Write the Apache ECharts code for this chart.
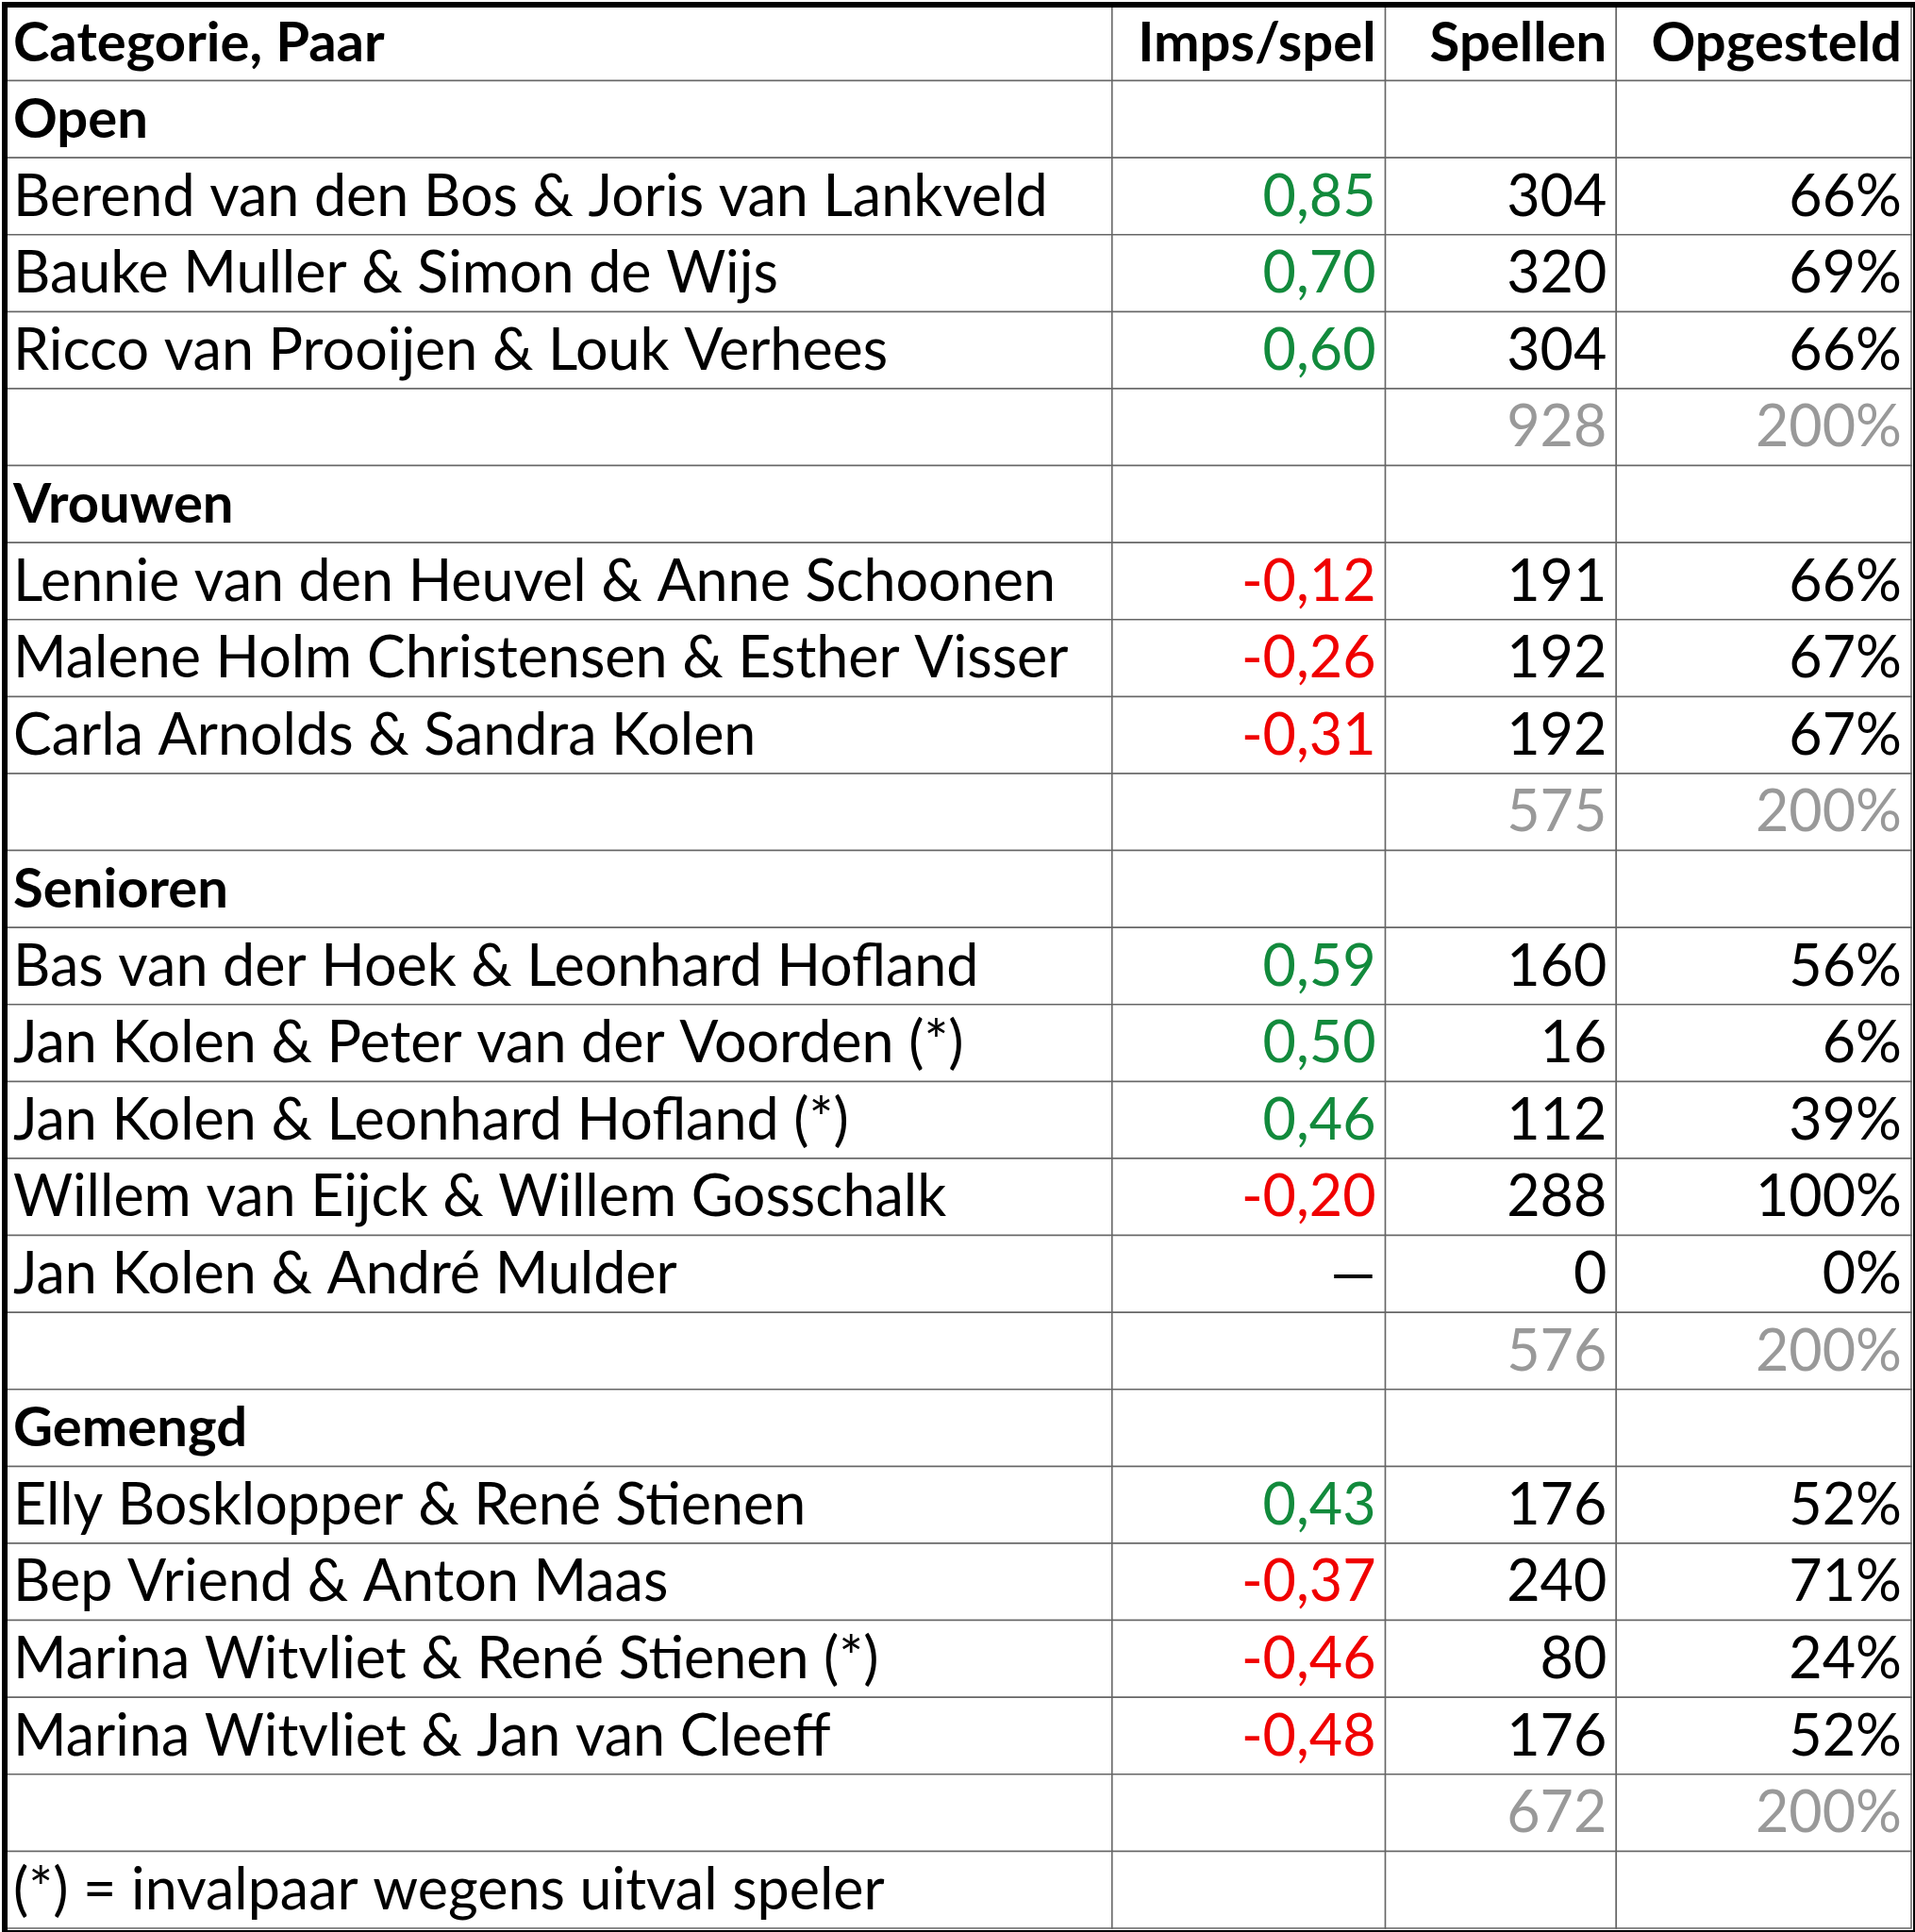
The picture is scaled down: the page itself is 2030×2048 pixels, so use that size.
<!DOCTYPE html>
<html>
<head>
<meta charset="utf-8">
<script src="https://cdn.jsdelivr.net/npm/echarts@6/dist/echarts.min.js"></script>
<style>body{margin:0;background:#fff}#main{width:2030px;height:2048px}</style>
</head>
<body>
<div id="main"></div>
<script>
// kolommen en gegevens
const headers = ['Categorie, Paar', 'Imps/spel', 'Spellen', 'Opgesteld'];
const categories = ['Open', 'Vrouwen', 'Senioren', 'Gemengd'];
const pairs = [
  ['Berend van den Bos & Joris van Lankveld', 'Bauke Muller & Simon de Wijs', 'Ricco van Prooijen & Louk Verhees'],
  ['Lennie van den Heuvel & Anne Schoonen', 'Malene Holm Christensen & Esther Visser', 'Carla Arnolds & Sandra Kolen'],
  ['Bas van der Hoek & Leonhard Hofland', 'Jan Kolen & Peter van der Voorden (*)', 'Jan Kolen & Leonhard Hofland (*)', 'Willem van Eijck & Willem Gosschalk', 'Jan Kolen & André Mulder'],
  ['Elly Bosklopper & René Stienen', 'Bep Vriend & Anton Maas', 'Marina Witvliet & René Stienen (*)', 'Marina Witvliet & Jan van Cleeff']
];
const imps = [
  [0.85, 0.70, 0.60],
  [-0.12, -0.26, -0.31],
  [0.59, 0.50, 0.46, -0.20, null],
  [0.43, -0.37, -0.46, -0.48]
];
const spellen = [
  [304, 320, 304],
  [191, 192, 192],
  [160, 16, 112, 288, 0],
  [176, 240, 80, 176]
];
const opgesteld = [
  [66, 69, 66],
  [66, 67, 67],
  [56, 6, 39, 100, 0],
  [52, 71, 24, 52]
];
const totalSpellen = [928, 575, 576, 672];
const totalOpgesteld = [200, 200, 200, 200];
const footnote = '(*) = invalpaar wegens uitval speler';

// rijen opbouwen: [kolom, rij, tekst, stijl]
const cells = [];
let r = 0;
function addRow(texts, styles) {
  for (let c = 0; c < 4; c++) cells.push([c, r, texts[c] || '', styles[c] || 'normal']);
  r++;
}
addRow(headers, ['bold', 'bold', 'bold', 'bold']);
categories.forEach((cat, i) => {
  addRow([cat], ['bold']);
  pairs[i].forEach((p, j) => {
    const v = imps[i][j];
    const txt = v === null ? '—' : v.toFixed(2).replace('.', ',');
    const st = v === null ? 'normal' : (v >= 0 ? 'pos' : 'neg');
    addRow([p, txt, String(spellen[i][j]), opgesteld[i][j] + '%'], ['normal', st, 'normal', 'normal']);
  });
  addRow(['', '', String(totalSpellen[i]), totalOpgesteld[i] + '%'], ['normal', 'normal', 'total', 'total']);
});
addRow([footnote], ['normal']);
const rowNames = Array.from({length: r}, (_, i) => 'r' + i);

const colors = {normal: '#000', bold: '#000', pos: '#128a3c', neg: '#f00000', total: '#999'};
const colWidths = [1176, 290, 245, 313];

const chart = echarts.init(document.getElementById('main'));
chart.setOption({
  animation: false,
  grid: {left: 4, right: 4, top: 4, bottom: 4},
  xAxis: {type: 'category', data: headers, show: false},
  yAxis: {type: 'category', data: rowNames, inverse: true, show: false},
  graphic: [{
    type: 'rect', left: 2, top: 2, z: 100,
    shape: {width: 2026, height: 2044},
    style: {fill: 'none', stroke: '#000', lineWidth: 6}
  }],
  series: [{
    type: 'custom',
    data: cells,
    renderItem: function (params, api) {
      const c = api.value(0);
      const total = colWidths.reduce((a, b) => a + b, 0);
      const ctr = api.coord([0, api.value(1)]);
      const h = api.size([0, 1])[1];
      const gridW = params.coordSys.width;
      let x0 = params.coordSys.x;
      for (let k = 0; k < c; k++) x0 += colWidths[k] / total * gridW;
      const w = colWidths[c] / total * gridW;
      const y0 = ctr[1] - h / 2;
      const st = cells[params.dataIndex][3];
      return {
        type: 'group',
        children: [
          {type: 'rect', shape: {x: x0, y: y0, width: w, height: h},
            style: {fill: '#fff', stroke: '#666', lineWidth: 1.5}},
          {type: 'text', style: {
            text: cells[params.dataIndex][2],
            x: c === 0 ? x0 + 10 : x0 + w - 10,
            y: y0 + h / 2 + 1,
            align: c === 0 ? 'left' : 'right',
            verticalAlign: 'middle',
            fontFamily: 'Lato',
            fontSize: st === 'bold' ? 58 : 61,
            fontWeight: st === 'bold' ? 'bold' : 'normal',
            fill: colors[st]
          }}
        ]
      };
    }
  }]
});
</script>
</body>
</html>
